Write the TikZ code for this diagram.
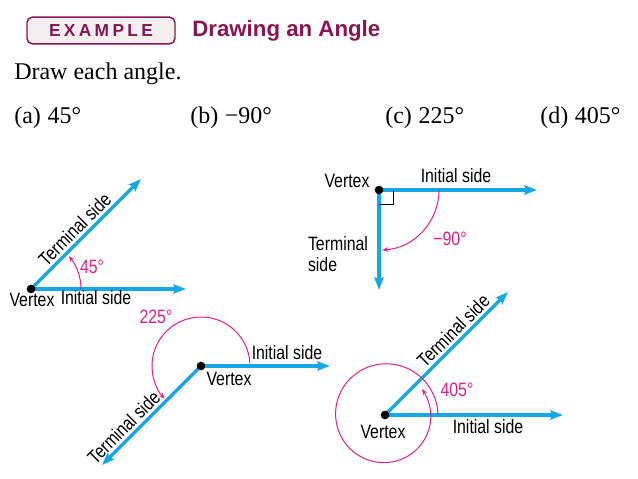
\documentclass[tikz,border=0pt]{standalone}
\usepackage{fontspec}
\setmainfont{Liberation Serif}
\newfontfamily\lblfont[FakeStretch=0.82]{Liberation Sans}
\newfontfamily\headfont{Liberation Sans}
\usetikzlibrary{arrows.meta}
\definecolor{rayblue}{RGB}{22,168,228}
\definecolor{arcpink}{RGB}{222,32,140}
\definecolor{headred}{RGB}{136,22,80}
\definecolor{boxfill}{RGB}{243,239,241}
\newcommand\exspaced{E\kern2.5pt X\kern2.5pt A\kern2.5pt M\kern2.5pt P\kern2.5pt L\kern2.5pt E}

\begin{document}
\begin{tikzpicture}[x=0.75pt, y=0.75pt,
side/.style={rayblue, line width=2.5pt, -{Stealth[length=9.5pt, width=7pt, inset=1.5pt]}},
sweep/.style={arcpink, line width=0.75pt, -{Stealth[length=4.5pt, width=3.5pt]}},
lbl/.style={font=\lblfont\fontsize{14.5}{16}\selectfont, inner sep=1pt},
ang/.style={lbl, text=arcpink},
task/.style={anchor=west, inner sep=0pt, font=\fontsize{18}{22}\selectfont},
vdot/.style={circle, fill=black, inner sep=0pt, minimum size=6.5pt}]
\useasboundingbox (0,0) rectangle (638,478);

\node[draw=headred, fill=boxfill, rounded corners=4pt, line width=1.1pt,
  minimum width=111pt, minimum height=20pt, text=headred,
  font=\headfont\bfseries\fontsize{13}{15}\selectfont] (ex) at (101,447.5) {\exspaced};
\node[anchor=west, inner sep=0pt, text=headred,
  font=\headfont\bfseries\fontsize{16.7}{20}\selectfont] (title) at (192,447) {Drawing an Angle};

\node[task] (intro) at (14,404) {Draw each angle.};
\node[task] (qa) at (14,360) {(a)\hspace{5pt}45°};
\node[task] (qb) at (190,360) {(b)\hspace{5pt}−90°};
\node[task] (qc) at (385,360) {(c)\hspace{5pt}225°};
\node[task] (qd) at (540,360) {(d)\hspace{5pt}405°};

% (a) 45
\coordinate (va) at (31,189);
\coordinate (ia) at (186,189);
\coordinate (ta) at (141,299);
\draw[side] (va) -- (ia);
\draw[side] (va) -- (ta);
\draw[sweep] (va) ++(0:50) arc[start angle=0, end angle=41, radius=50];
\node[ang] (anga) at (92,211) {45°};
\node[lbl] (vxa) at (32,178) {Vertex};
\node[lbl] (isa) at (96,180) {Initial side};
\path (va) -- (ta) node[lbl, pos=0.47, sloped, above=2pt] (tsa) {Terminal side};
\node[vdot] (dota) at (va) {};

% (b) -90
\coordinate (vb) at (379,288);
\coordinate (ib) at (537,288);
\coordinate (tb) at (379,188);
\draw[side] (vb) -- (ib);
\draw[side] (vb) -- (tb);
\draw[line width=0.6pt] (vb) ++(14,0) -- ++(0,-14) -- ++(-14,0);
\draw[sweep] (vb) ++(0:60) arc[start angle=0, end angle=-87, radius=60];
\node[ang] (angb) at (450,239) {−90°};
\node[lbl] (vxb) at (347,297) {Vertex};
\node[lbl] (isb) at (456,302) {Initial side};
\node[lbl, align=left] (tsb) at (338,224) {Terminal\\side};
\node[vdot] (dotb) at (vb) {};

% (c) 225
\coordinate (vc) at (201,112);
\coordinate (ic) at (330,112);
\coordinate (tc) at (102,13);
\draw[side] (vc) -- (ic);
\draw[side] (vc) -- (tc);
\draw[sweep] (vc) ++(3:49) arc[start angle=3, end angle=222, radius=49];
\node[ang] (angc) at (156,161) {225°};
\node[lbl] (vxc) at (229,99) {Vertex};
\node[lbl] (isc) at (287,125) {Initial side};
\path (tc) -- (vc) node[lbl, pos=0.3, sloped, above=2pt] (tsc) {Terminal side};
\node[vdot] (dotc) at (vc) {};

% (d) 405
\coordinate (vd) at (385,63);
\coordinate (id) at (563,63);
\coordinate (td) at (508,186);
\draw[side] (vd) -- (id);
\draw[side] (vd) -- (td);
\draw[sweep, shift={(vd)}] plot[domain=0:395, samples=120, smooth]
  ({(53-\x/50)*cos(\x)}, {(53-\x/50)*sin(\x)});
\node[ang] (angd) at (457,88) {405°};
\node[lbl] (vxd) at (383,46) {Vertex};
\node[lbl] (isd) at (488,51) {Initial side};
\path (vd) -- (td) node[lbl, pos=0.62, sloped, above=2pt] (tsd) {Terminal side};
\node[vdot] (dotd) at (vd) {};
\end{tikzpicture}
\end{document}
